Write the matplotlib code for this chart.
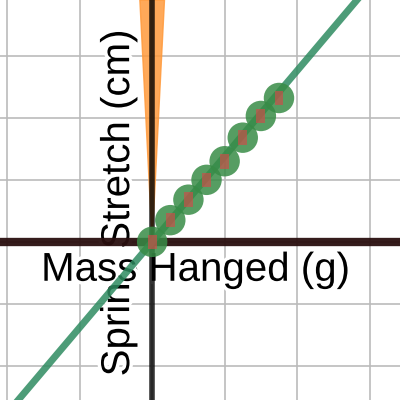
import numpy as np
import matplotlib
matplotlib.use("Agg")
import matplotlib.pyplot as plt
import matplotlib.patheffects as pe

# data
mass = [0, 0.25, 0.5, 0.75, 1.0, 1.25, 1.5, 1.75]
stretch = [0, 0.35, 0.68, 1.0, 1.3, 1.68, 2.03, 2.32]
fit_slope = 1.38
wedge_half = 0.17  # half width of orange band at top

x_lo, x_hi = -2.1, 3.42
y_lo, y_hi = -2.55, 3.9

plt.rcParams["font.family"] = ["Liberation Sans", "DejaVu Sans"]

fig = plt.figure(figsize=(4, 4), dpi=100)
ax = fig.add_axes([0, 0, 1, 1])
ax.set_xlim(x_lo, x_hi)
ax.set_ylim(y_lo, y_hi)
for gx in range(-2, 4):
    ax.axvline(gx, color="#bbbbbb", lw=1.2, zorder=0)
for gy in range(-2, 4):
    ax.axhline(gy, color="#bbbbbb", lw=1.2, zorder=0)
ax.set_xticks([])
ax.set_yticks([])
for s in ax.spines.values():
    s.set_visible(False)

stroke = [pe.withStroke(linewidth=5, foreground="white")]
ax.text(-0.47, 3.42, "Spring Stretch (cm)", fontsize=29, rotation=90,
        ha="center", va="top", zorder=2, path_effects=stroke)
ax.text(0.6, -0.45, "Mass Hanged (g)", fontsize=29, ha="center", va="center",
        zorder=2, path_effects=stroke)

# orange wedge and axes
ax.fill([0, -wedge_half, wedge_half], [0, y_hi, y_hi], color="#ff9a3c",
        alpha=0.85, zorder=3)
ax.axvline(0, color="black", lw=4, alpha=0.8, zorder=4)
ax.axhline(0, color="#2a0f0f", lw=6, alpha=0.95, zorder=4)

# fit line
xs = np.array([x_lo, x_hi])
ax.plot(xs, fit_slope * xs, color="#2e8b60", lw=5, alpha=0.85, zorder=5)

# points
ax.scatter(mass, stretch, s=480, color="#388c46", alpha=0.85, zorder=6,
           edgecolors="none")
ax.scatter(mass, stretch, s=110, marker=[(-0.6, -1), (0.6, -1), (0.6, 1), (-0.6, 1)],
           color="#c8504a", alpha=0.7, zorder=7, edgecolors="none")

fig.savefig("out.png", dpi=100)
